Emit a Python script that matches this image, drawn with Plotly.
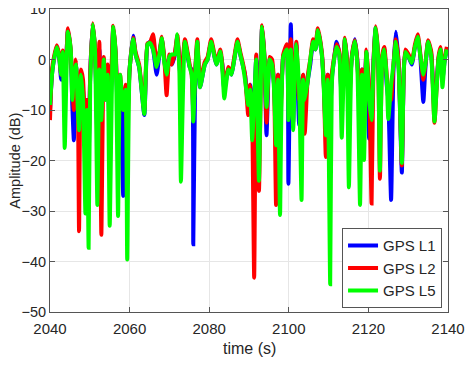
import plotly.graph_objects as go

time_s = [2040.0, 2040.5, 2041.0, 2041.7, 2042.3, 2042.8, 2043.2, 2043.7, 2044.5, 2045.2,
          2045.6, 2046.0, 2046.5, 2047.0, 2047.3, 2047.8, 2048.3, 2048.9, 2049.3, 2049.7,
          2050.1, 2050.7, 2051.3, 2051.9, 2052.4, 2052.9, 2053.5, 2054.0, 2054.5, 2055.0,
          2055.9, 2056.5, 2057.1, 2057.6, 2058.4, 2059.0, 2059.4, 2060.0, 2060.9, 2061.5,
          2062.4, 2063.7, 2064.5, 2065.1, 2065.9, 2066.8, 2067.5, 2068.1, 2068.7, 2069.3,
          2070.0, 2070.6, 2071.4, 2072.0, 2072.5, 2072.9, 2073.9, 2075.1, 2075.6, 2076.0,
          2076.5, 2077.0, 2077.7, 2078.9, 2079.6, 2080.5, 2081.2, 2081.8, 2082.8, 2083.3,
          2083.8, 2084.8, 2085.6, 2086.3, 2087.1, 2087.8, 2088.4, 2089.0, 2089.8, 2090.3,
          2090.8, 2091.3, 2091.8, 2092.5, 2093.3, 2093.9, 2094.4, 2095.2, 2095.8, 2096.3,
          2096.8, 2097.3, 2097.8, 2098.6, 2099.5, 2099.9, 2100.5, 2101.1, 2101.5, 2101.9,
          2102.6, 2103.2, 2103.6, 2104.0, 2104.8, 2105.4, 2106.1, 2106.7, 2107.3, 2108.3,
          2108.8, 2109.3, 2109.8, 2110.4, 2110.8, 2111.2, 2112.0, 2112.7, 2113.3, 2114.1,
          2114.6, 2115.1, 2115.8, 2116.6, 2117.2, 2117.9, 2118.4, 2118.9, 2119.5, 2120.2,
          2120.8, 2121.3, 2121.8, 2122.4, 2122.9, 2123.5, 2124.0, 2124.6, 2125.0, 2125.7,
          2126.3, 2126.9, 2127.6, 2128.4, 2128.9, 2129.3, 2130.1, 2130.9, 2131.7, 2132.4,
          2133.0, 2133.8, 2134.3, 2135.0, 2135.8, 2136.6, 2137.6, 2138.1, 2138.6, 2139.2,
          2139.7]

gps_l1 = [-10, -3, 0, 2.5, 0.5, -4, 1.5, -6, 5.8, 1.5,
          -9, -16, -1, -6, -10, -3, -6, -18, -8, -20,
          -3, 7, 2, -15, 2, -8, 0, -6, -2, -15,
          6.5, 1, -12, -4, -27, -6, -12, -2, 4.7, 1,
          -1.5, -11, 3, 3.5, 2, -3, 1, 4, 0, -3,
          0.5, -1, 1, 4.5, 0, -6, 3.5, -1.5, -2, -36.6,
          -3, 3.5, -5.5, -1, 0, 3.5, 1, -1, 1.6, -1,
          -6, -2, -3, 0, 3.5, 1, -1, -3, -9, -5,
          -10, -8, 0, -8, 6.5, 0, -15, 0, -1, -5,
          -14, -3, -12, 0.5, 2.5, -24.6, 7, -12.5, -2, 3,
          -13, -5, -3, -8, -4, -1, 3.5, 2, 5.8, 1,
          -5, -14, -3, -10, -4, -1, 3.5, 1, -8, 4,
          0, -8, 0, 4, 0, -10, -2, -8, 1.5, -15.7,
          -8, 0, 6.3, 1, -10, 0.4, 2, -5, -8, -27.8,
          -2, 5.5, -1, -22.4, -2, 1.5, 0.5, -1, 2.5, 4.5,
          1, -8.4, -2, 3.5, 1, -10, 0, 2, -4, 0,
          2]

gps_l2 = [-12, -2, 0.5, 2.8, 1, -3, 1.8, -8, 6.2, 2,
          -5, -10, 0, -8, -34, -2, -4, -15, -8, -18,
          -3, 7.2, 2.5, -12, 3.5, -34.7, 0.5, -5, -1, -12,
          6.7, 1.5, -10, -3, -10, -5, -15, -2, 4.3, 1.5,
          -1, -10, 3.2, 3.3, 5, -1, 1.5, 4.5, 0.5, -7.1,
          1, -1, 1.5, 4.8, 0, -5, 4, -1, -3, -10,
          -2, 4, -4, -0.5, 0.5, 4, 1.5, -0.5, 2, -1,
          -5, -1.5, -2.5, 0.5, 4, 1.5, -0.5, -3, -11, -5,
          -12, -43.2, 1, -26, 6.8, 0.5, -12.5, 0.5, 0, -5,
          -28.8, -3, -15, 1, 3, -8, 4, -6, -2, 3.5,
          -8, -6, -3, -14.7, -3, 0, 4, 3, 6.2, 1.5,
          -5, -19.3, -3, -12, -3, -0.5, 3, 1.5, -8, 4.3,
          0, -10, 0.5, 3.8, 0, -12, -2, -10, 2, -6,
          -28.5, 0, 6.6, 1.5, -23.6, 1, 2.5, -3, -6, -8,
          -1, 4, -0.5, -21, -2, 2, 1, -0.5, 3, 5,
          1.5, -4, -1, 3.8, 1.5, -12.5, 0.5, 2.5, -3, 0.5,
          2.5]

gps_l5 = [-9, -3, 0, 2.5, 0.5, -3, 1.5, -17.5, 5.5, 2,
          -8, -3, -1, -10, -14, -3, -8, -30.5, -10, -37.3,
          -5, 7, 2, -28.8, -2, -12, 0, -8, -3, -32.9,
          6.5, 1, -31, -3, -10, -6, -39.6, -2, 4, 1,
          -1.5, -10.8, 3, 3.3, 2, -1.5, 1, 4.2, -0.5, -3,
          0.5, 1, 1, 5, -2, -24.2, 3.5, -1.5, -3, -12.3,
          -3, 3.5, -5.5, -1, 0, 3.5, 1, -1, 1.6, -2,
          -7.7, -2, -3, 0, 3.5, 1, -1, -4, -9, -6,
          -16, -8, 0, -24, 6.5, 0, -9.4, 0, -1, -6,
          -17, -4, -30.8, 0.5, 2, -12, 2, -14, -3, 3,
          -6, -27.8, -4, -8, -4, 0, 3.5, 2, 5.8, 1,
          -6, -15, -4, -44.5, -5, -1, 2.5, 1, -15.5, 4,
          -1, -25.3, 0, 3.6, -1, -28.8, -3, -19.9, 1.5, -8,
          -12, -1, 6.3, 1, -22, 0.4, 2, -3.6, -11.8, -5,
          -1, 3.5, -2, -20.5, -2, 1.5, 0.5, -0.7, 2.5, 4.5,
          1, -3, -1, 3.5, 0.5, -12.3, 0, 2, -5.5, 0,
          2]

series = [("GPS L1", gps_l1, "#0000FF"),
          ("GPS L2", gps_l2, "#FF0000"),
          ("GPS L5", gps_l5, "#00FF00")]

x_ticks = [2040, 2060, 2080, 2100, 2120, 2140]
y_ticks = [10, 0, -10, -20, -30, -40, -50]

fig = go.Figure()
for name, vals, col in series:
    fig.add_trace(go.Scatter(x=time_s, y=vals, mode="lines", name=name,
                             line=dict(color=col, width=4, shape="spline", smoothing=0.5)))

font = "Liberation Sans, Arial, sans-serif"
axis_common = dict(showline=True, mirror="ticks", linecolor="#555555", linewidth=1,
                   ticks="inside", ticklen=5, tickcolor="#555555",
                   showgrid=True, gridcolor="#e6e6e6", gridwidth=1, zeroline=False,
                   automargin=False, ticklabeloverflow="allow")

# page body adds an 8px offset, so the figure is sized to fit inside the window
fig.update_layout(
    width=466, height=372,
    margin=dict(l=42, r=26, t=1, b=68),
    paper_bgcolor="white", plot_bgcolor="white",
    font=dict(family=font, size=15, color="#262626"),
    xaxis=dict(range=[2040, 2140], tickvals=x_ticks, ticklabelstandoff=3,
               tickfont=dict(family=font, size=15, color="#262626"), **axis_common),
    yaxis=dict(range=[-50, 10], tickvals=y_ticks,
               tickfont=dict(family=font, size=14.5, color="#262626"), **axis_common),
    legend=dict(x=0.985, y=0.012, xanchor="right", yanchor="bottom",
                bgcolor="white", bordercolor="#555555", borderwidth=1,
                font=dict(family=font, size=15, color="#262626"),
                tracegroupgap=0, itemwidth=30),
    showlegend=True,
    annotations=[
        dict(text="time (s)", xref="paper", yref="paper", x=0.5, y=-0.12,
             xanchor="center", yanchor="middle", showarrow=False,
             font=dict(family=font, size=16, color="#262626")),
        dict(text="Amplitude (dB)", xref="paper", yref="paper", x=-0.09, y=0.5,
             xanchor="center", yanchor="middle", textangle=-90, showarrow=False,
             font=dict(family=font, size=14.5, color="#262626")),
    ],
)

fig.write_html("out.html")
